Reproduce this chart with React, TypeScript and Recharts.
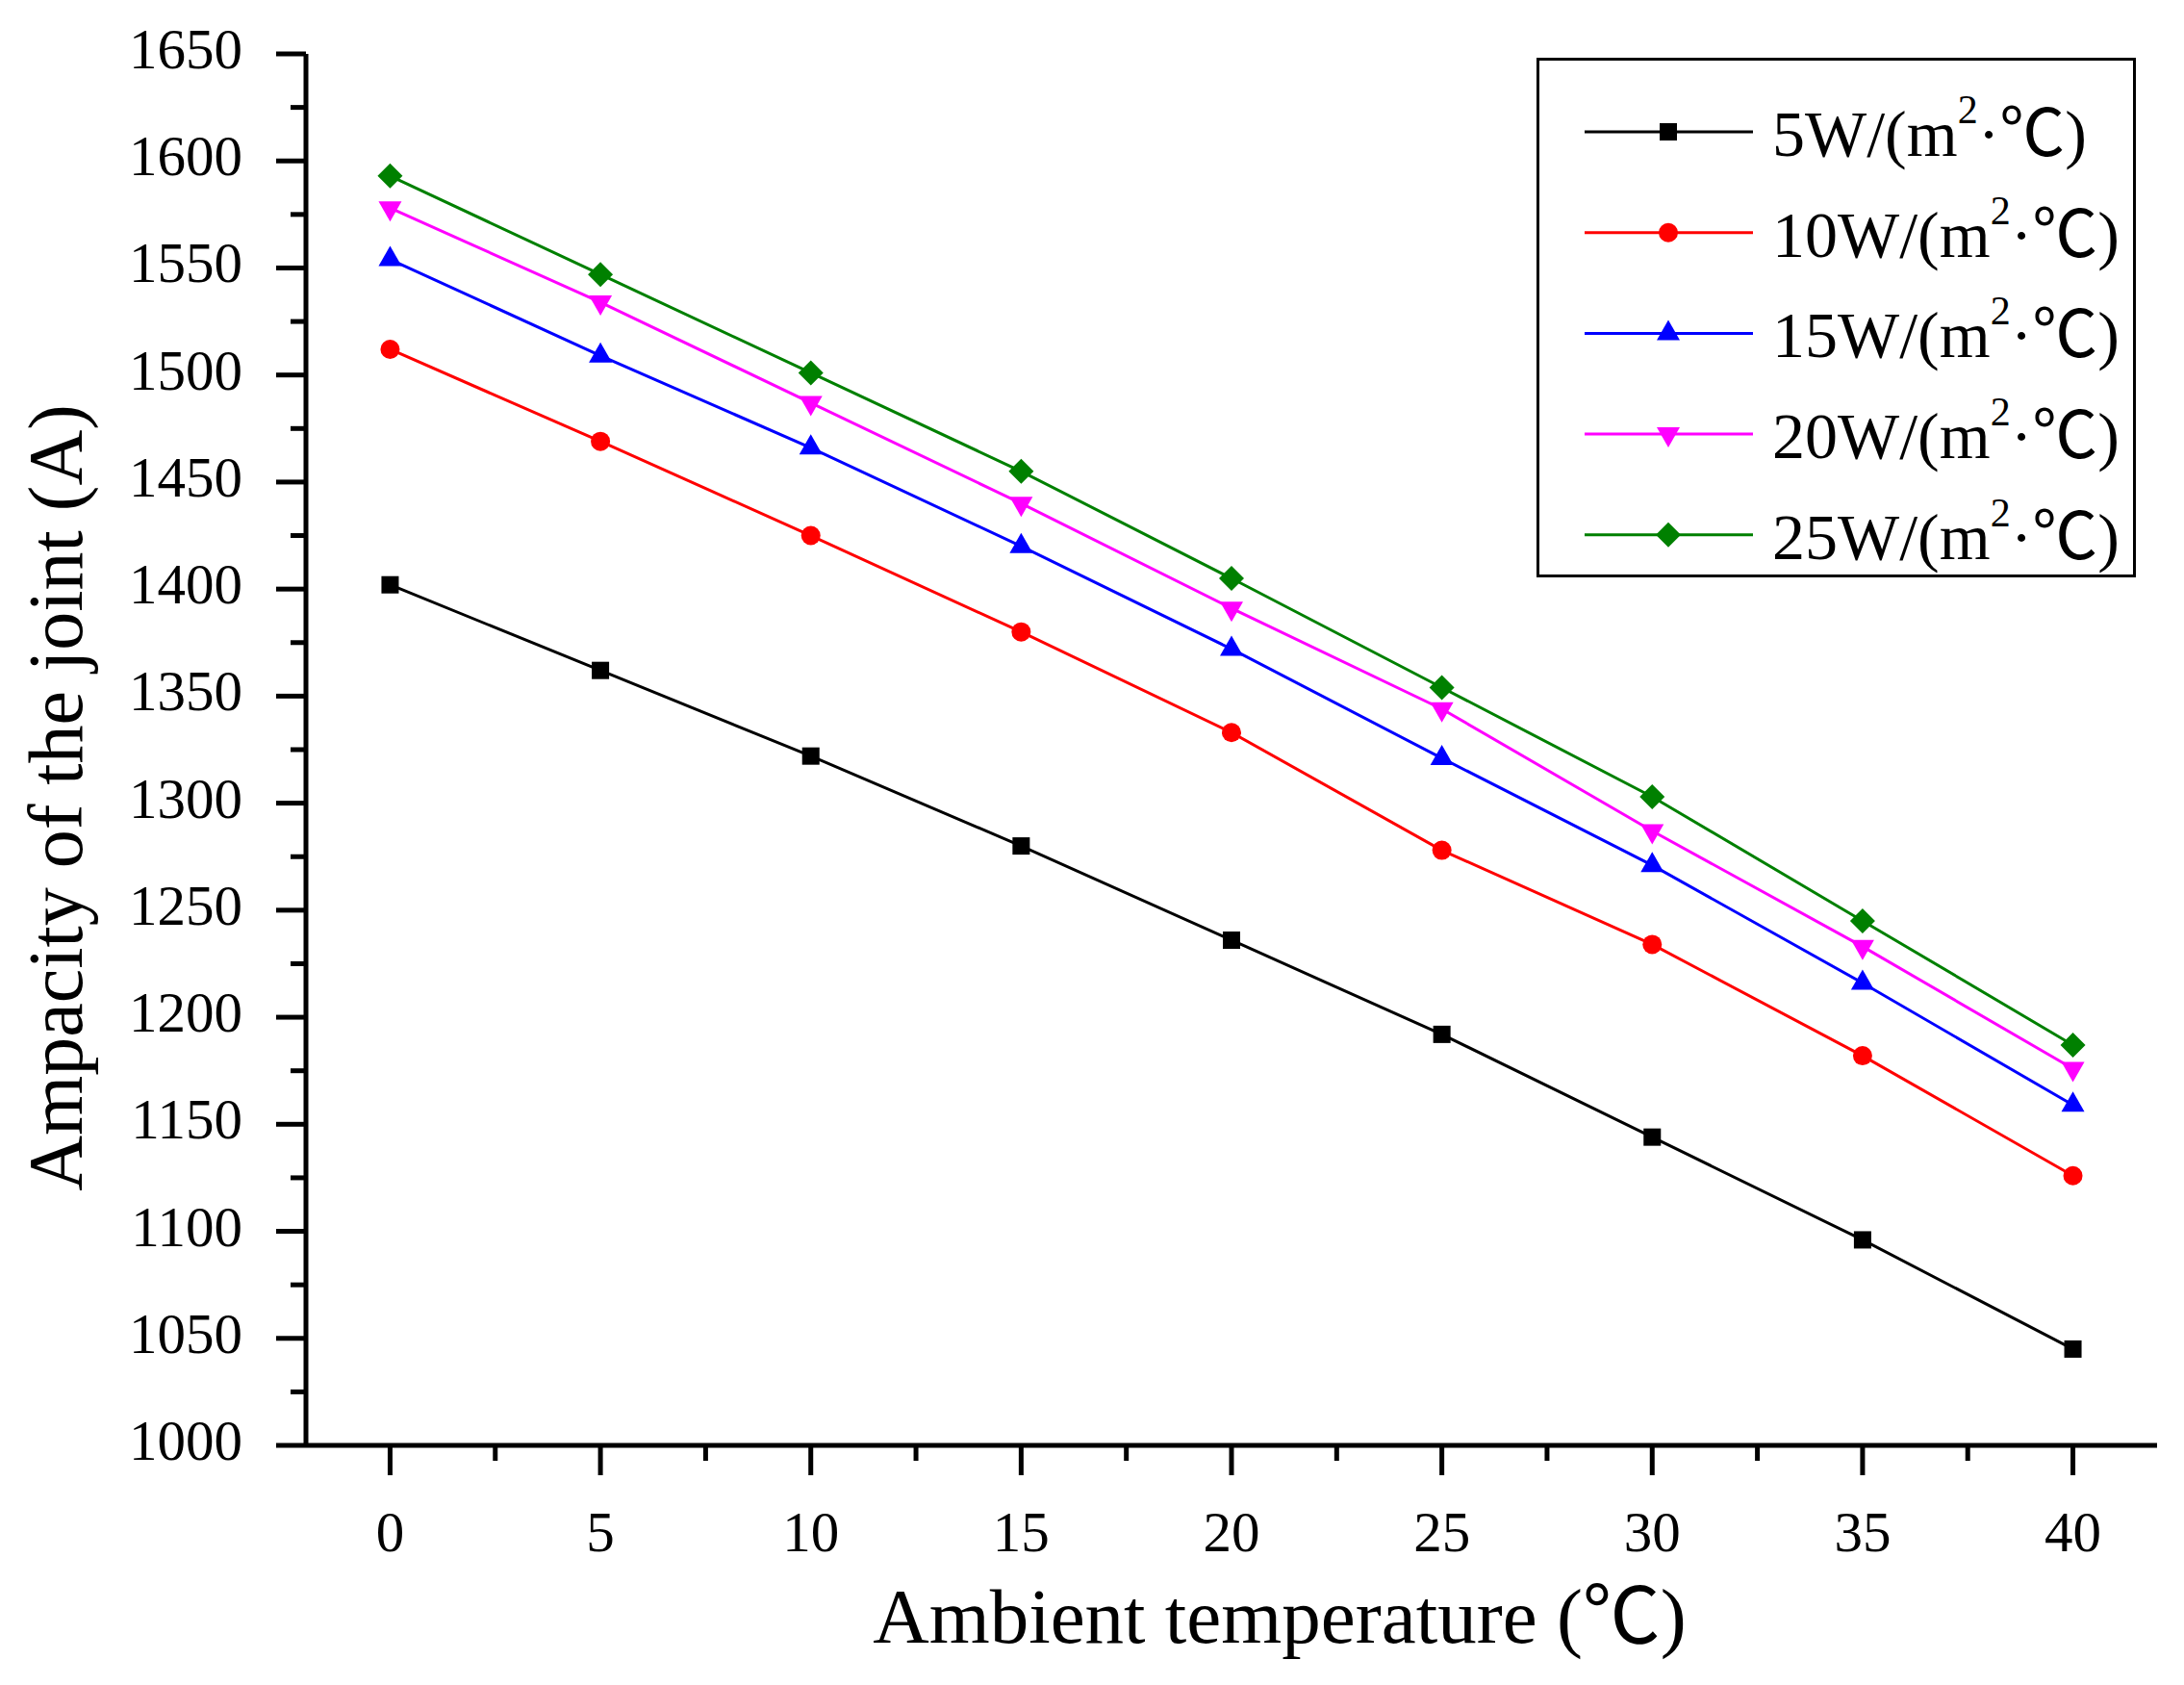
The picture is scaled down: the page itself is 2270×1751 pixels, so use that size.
import { LineChart, Line, XAxis, YAxis, Legend } from "recharts";

// ambient temperature (°C) on the x axis
const TEMPS = [0, 5, 10, 15, 20, 25, 30, 35, 40];

// ampacity (A) for each heat transfer coefficient
const AMP_5 = [1402, 1362, 1322, 1280, 1236, 1192, 1144, 1096, 1045];
const AMP_10 = [1512, 1469, 1425, 1380, 1333, 1278, 1234, 1182, 1126];
const AMP_15 = [1554, 1509, 1466, 1420, 1372, 1321, 1271, 1216, 1159];
const AMP_20 = [1578, 1534, 1487, 1440, 1391, 1344, 1287, 1233, 1176];
const AMP_25 = [1593, 1547, 1501, 1455, 1405, 1354, 1303, 1245, 1187];

const X_TICKS = [0, 2.5, 5, 7.5, 10, 12.5, 15, 17.5, 20, 22.5, 25, 27.5, 30, 32.5, 35, 37.5, 40];
const Y_TICKS = [
  1000, 1025, 1050, 1075, 1100, 1125, 1150, 1175, 1200, 1225, 1250, 1275, 1300,
  1325, 1350, 1375, 1400, 1425, 1450, 1475, 1500, 1525, 1550, 1575, 1600, 1625, 1650,
];

const SERIES = [
  { key: "h5", coef: "5", color: "#000000", shape: "square", values: AMP_5 },
  { key: "h10", coef: "10", color: "#ff0000", shape: "circle", values: AMP_10 },
  { key: "h15", coef: "15", color: "#0000ff", shape: "up", values: AMP_15 },
  { key: "h20", coef: "20", color: "#ff00ff", shape: "down", values: AMP_20 },
  { key: "h25", coef: "25", color: "#008000", shape: "diamond", values: AMP_25 },
];

const data = TEMPS.map((t, i) => {
  const row: Record<string, number> = { t };
  SERIES.forEach((s) => (row[s.key] = s.values[i]));
  return row;
});

// ℃ falls through to the CJK font, which draws it thin and full width
const SERIF = '"Liberation Serif", "Noto Sans CJK SC", serif';

function Marker({ cx, cy, shape, color }: any) {
  if (cx == null || cy == null) return null;
  if (shape === "square")
    return <rect x={cx - 9} y={cy - 9} width={18} height={18} fill={color} />;
  if (shape === "circle") return <circle cx={cx} cy={cy} r={10} fill={color} />;
  if (shape === "up")
    return <polygon points={`${cx},${cy - 14} ${cx + 12},${cy + 7} ${cx - 12},${cy + 7}`} fill={color} />;
  if (shape === "down")
    return <polygon points={`${cx},${cy + 14} ${cx + 12},${cy - 7} ${cx - 12},${cy - 7}`} fill={color} />;
  return <polygon points={`${cx},${cy - 13} ${cx + 13},${cy} ${cx},${cy + 13} ${cx - 13},${cy}`} fill={color} />;
}

function XTick({ x, y, payload }: any) {
  const major = payload.value % 5 === 0;
  return (
    <g>
      <line x1={x} x2={x} y1={y} y2={y + (major ? 31 : 16)} stroke="#000" strokeWidth={5} />
      {major && (
        <text x={x} y={y + 90} textAnchor="middle" dominantBaseline="central" fontSize={59} fontFamily={SERIF} fill="#000">
          {payload.value}
        </text>
      )}
    </g>
  );
}

function YTick({ x, y, payload }: any) {
  const major = payload.value % 50 === 0;
  return (
    <g>
      <line x1={x} x2={x - (major ? 31 : 16)} y1={y} y2={y} stroke="#000" strokeWidth={5} />
      {major && (
        <text x={x - 66} y={y - 5} textAnchor="end" dominantBaseline="central" fontSize={59} fontFamily={SERIF} fill="#000">
          {payload.value}
        </text>
      )}
    </g>
  );
}

function LegendBox() {
  return (
    <div style={{ width: 623, height: 540, border: "3px solid #000", boxSizing: "border-box", background: "#fff" }}>
      <svg width={617} height={534}>
        {SERIES.map((s, i) => {
          const cy = 74 + i * 104.7;
          return (
            <g key={s.key}>
              <line x1={47} x2={222} y1={cy} y2={cy} stroke={s.color} strokeWidth={3} />
              <Marker cx={134} cy={cy} shape={s.shape} color={s.color} />
              <text x={242} y={cy + 25} fontSize={68} fontFamily={SERIF} fill="#000">
                {s.coef}W/(m
                <tspan dy={-34} fontSize={42}>2</tspan>
                <tspan dy={34}>·℃)</tspan>
              </text>
            </g>
          );
        })}
      </svg>
    </div>
  );
}

export default function App() {
  return (
    <div style={{ position: "absolute", left: 0, top: 0, background: "#fff" }}>
      <LineChart width={2270} height={1751} data={data} margin={{ top: 56, right: 28, bottom: 0, left: 0 }}>
        <XAxis
          dataKey="t"
          type="number"
          domain={[-2, 42]}
          ticks={X_TICKS}
          interval={0}
          height={249}
          tickSize={0}
          tickMargin={0}
          tickLine={false}
          axisLine={{ stroke: "#000", strokeWidth: 5 }}
          tick={(p: any) => <XTick {...p} />}
          label={({ viewBox }: any) => (
            <text x={viewBox.x + viewBox.width / 2 + 50} y={1707} textAnchor="middle" fontSize={81} fontFamily={SERIF} fill="#000">
              Ambient temperature (℃)
            </text>
          )}
        />
        <YAxis
          type="number"
          domain={[1000, 1650]}
          ticks={Y_TICKS}
          interval={0}
          width={318}
          tickSize={0}
          tickMargin={0}
          tickLine={false}
          axisLine={{ stroke: "#000", strokeWidth: 5 }}
          tick={(p: any) => <YTick {...p} />}
          label={() => (
            <text x={85} y={829} transform="rotate(-90 85 829)" textAnchor="middle" fontSize={80} fontFamily={SERIF} fill="#000">
              Ampacity of the joint (A)
            </text>
          )}
        />
        <Legend
          layout="vertical"
          align="center"
          verticalAlign="middle"
          wrapperStyle={{ left: 1597, top: 60, width: 623 }}
          content={() => <LegendBox />}
        />
        {SERIES.map((s) => (
          <Line
            key={s.key}
            dataKey={s.key}
            name={`${s.coef}W/(m2·℃)`}
            stroke={s.color}
            strokeWidth={3}
            isAnimationActive={false}
            dot={(p: any) => <Marker key={`${s.key}-${p.index}`} cx={p.cx} cy={p.cy} shape={s.shape} color={s.color} />}
            activeDot={false}
          />
        ))}
      </LineChart>
    </div>
  );
}
